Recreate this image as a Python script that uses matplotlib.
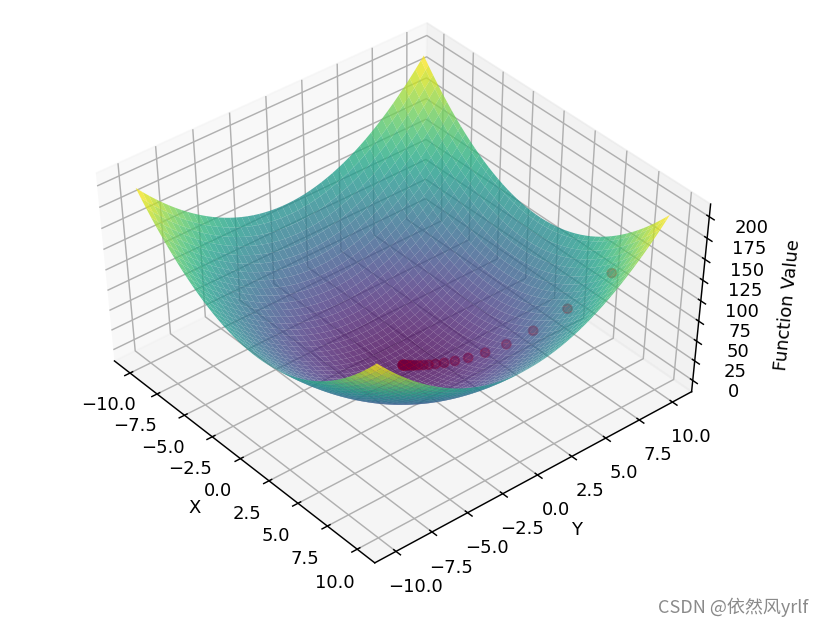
import numpy as np
import matplotlib
matplotlib.use('Agg')
import matplotlib.pyplot as plt
from mpl_toolkits.mplot3d import Axes3D

# descent path
path_x = [8.0, 6.4, 5.12, 4.1, 3.28, 2.62, 2.1, 1.68, 1.34, 1.07, 0.86, 0.69, 0.55, 0.44, 0.35, 0.28, 0.23, 0.18, 0.14, 0.12, 0.09, 0.07, 0.06, 0.05, 0.04]
path_y = [8.0, 6.4, 5.12, 4.1, 3.28, 2.62, 2.1, 1.68, 1.34, 1.07, 0.86, 0.69, 0.55, 0.44, 0.35, 0.28, 0.23, 0.18, 0.14, 0.12, 0.09, 0.07, 0.06, 0.05, 0.04]
path_z = [128.0, 81.9, 52.4, 33.6, 21.5, 13.7, 8.8, 5.6, 3.6, 2.3, 1.5, 0.95, 0.6, 0.39, 0.25, 0.16, 0.11, 0.06, 0.04, 0.03, 0.02, 0.01, 0.01, 0.0, 0.0]

grid = np.linspace(-10, 10, 100)
X, Y = np.meshgrid(grid, grid)
Z = X**2 + Y**2

fig = plt.figure(figsize=(825 / 130, 627 / 130), dpi=130)
ax = fig.add_subplot(111, projection='3d')
ax.plot_surface(X, Y, Z, cmap='viridis', alpha=0.77)
ax.scatter(path_x, path_y, path_z, color='red', s=25, alpha=0.5)

ax.set_xlabel('X')
ax.set_ylabel('Y')
ax.set_zlabel('Function Value')
ax.view_init(elev=45, azim=-40)
for axis in (ax.xaxis, ax.yaxis, ax.zaxis):
    axis.set_tick_params(pad=4)

# the reference is squashed vertically, so let the 3d box fill a non-square rect
rect = [0.078, 0.095, 0.796, 0.876]
ax.set_position(rect)
ax.apply_aspect = lambda position=None: ax._set_position(rect, 'active')

fig.text(0.98, 0.031, 'CSDN @依然风yrlf', ha='right', va='center', fontsize=10, color='#8a8a8a',
         family=['Noto Sans CJK SC', 'DejaVu Sans'])

plt.savefig('out.png', dpi=130)
